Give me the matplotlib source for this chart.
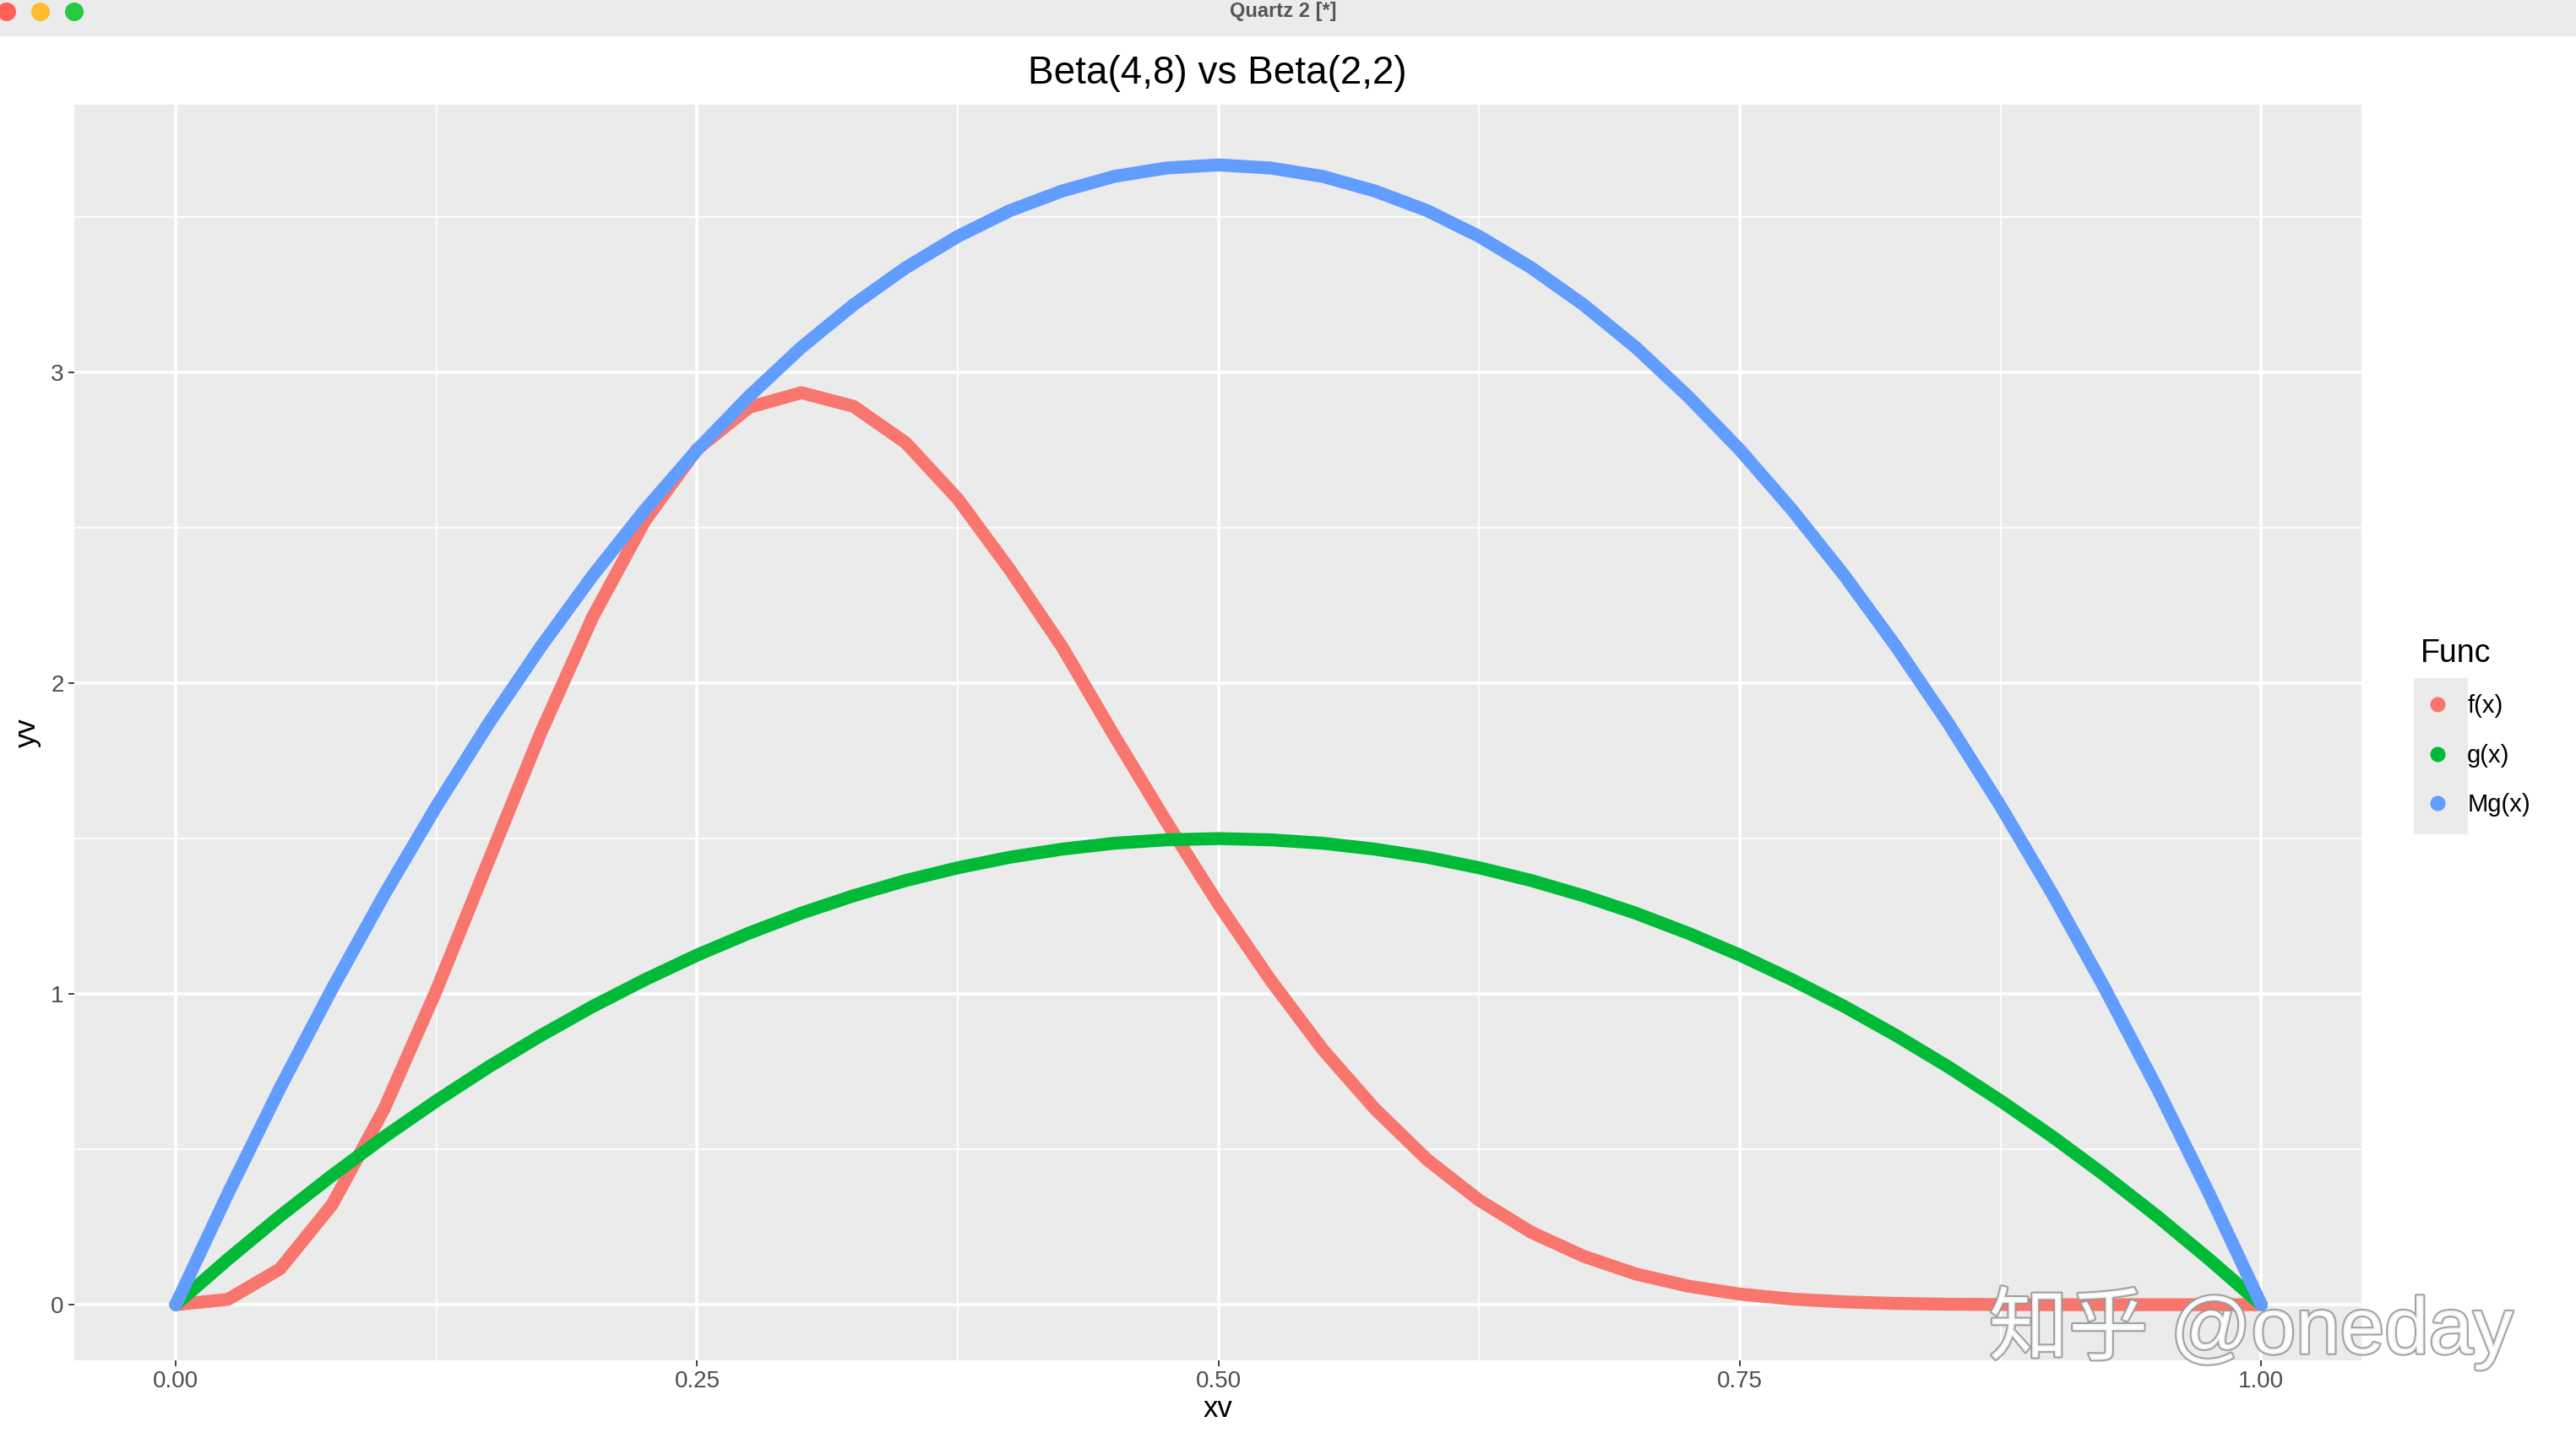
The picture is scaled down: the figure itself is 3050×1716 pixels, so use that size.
import matplotlib
matplotlib.use("Agg")
import matplotlib.pyplot as plt
import matplotlib.patheffects as pe
from matplotlib.patches import Rectangle, Circle

xv = [i * 0.025 for i in range(41)]
f_x = [0, 0.017, 0.115, 0.322, 0.631, 1.012, 1.428, 1.840, 2.214, 2.523, 2.753, 2.888,
       2.935, 2.891, 2.774, 2.593, 2.365, 2.117, 1.831, 1.554, 1.289, 1.044, 0.821, 0.630,
       0.467, 0.336, 0.233, 0.156, 0.099, 0.060, 0.034, 0.018, 0.009, 0.004, 0.0014, 0.0005,
       0.0001, 0, 0, 0, 0]
g_x = [0, 0.146, 0.285, 0.416, 0.540, 0.656, 0.765, 0.866, 0.960, 1.046, 1.125, 1.196,
       1.260, 1.316, 1.365, 1.406, 1.440, 1.466, 1.485, 1.496, 1.500, 1.496, 1.485, 1.466,
       1.440, 1.406, 1.365, 1.316, 1.260, 1.196, 1.125, 1.046, 0.960, 0.866, 0.765, 0.656,
       0.540, 0.416, 0.285, 0.146, 0]
mg_x = [0, 0.357, 0.697, 1.017, 1.320, 1.604, 1.870, 2.117, 2.347, 2.558, 2.751, 2.924,
        3.081, 3.218, 3.337, 3.438, 3.521, 3.584, 3.631, 3.658, 3.668, 3.658, 3.631, 3.584,
        3.521, 3.438, 3.337, 3.218, 3.081, 2.924, 2.751, 2.558, 2.347, 2.117, 1.870, 1.604,
        1.320, 1.017, 0.697, 0.357, 0]
series = [("f(x)", f_x, "#F8766D"), ("g(x)", g_x, "#00BA38"), ("Mg(x)", mg_x, "#619CFF")]
x_ticks = [0.0, 0.25, 0.5, 0.75, 1.0]
x_labels = ["0.00", "0.25", "0.50", "0.75", "1.00"]
y_ticks = [0, 1, 2, 3]

plt.rcParams["font.family"] = ["Liberation Sans", "Noto Sans CJK SC", "DejaVu Sans"]
fig = plt.figure(figsize=(30.5, 17.16), dpi=100)

# Fensterleiste
fig.patches.append(Rectangle((0, 0.975), 1, 0.025, transform=fig.transFigure,
                             facecolor="#ECEBEB", edgecolor="none"))
for i, c in enumerate(["#FE5F57", "#FEBC2E", "#28C840"]):
    fig.patches.append(Circle((8 + i * 40, 1716 - 14), 11, transform=None, facecolor=c))
fig.text(0.498, 0.992, "Quartz 2 [*]", ha="center", va="center", fontsize=17,
         color="#555555", weight="bold")

ax = fig.add_axes([0.0287, 0.061, 0.888, 0.867])
ax.set_facecolor("#EBEBEB")
for xm in [0.125, 0.375, 0.625, 0.875]:
    ax.axvline(xm, color="white", lw=1.3, zorder=0)
for ym in [0.5, 1.5, 2.5, 3.5]:
    ax.axhline(ym, color="white", lw=1.3, zorder=0)
ax.grid(color="white", lw=2.6, zorder=0)
ax.set_axisbelow(True)
for s in ax.spines.values():
    s.set_visible(False)

for name, vals, col in series:
    ax.plot(xv, vals, color=col, lw=11, solid_capstyle="round", label=name, zorder=2)

ax.set_xlim(-0.0488, 1.048)
ax.set_ylim(-0.18, 3.863)
ax.set_xticks(x_ticks)
ax.set_xticklabels(x_labels)
ax.set_yticks(y_ticks)
ax.tick_params(labelsize=20, colors="#4D4D4D", length=5, width=1.3, color="#333333")
ax.set_xlabel("xv", fontsize=25, labelpad=2)
ax.set_ylabel("yv", fontsize=25, labelpad=8)
ax.set_title("Beta(4,8) vs Beta(2,2)", fontsize=33, pad=18)

# graue Schluesselflaeche der Legende
fig.patches.append(Rectangle((0.937, 0.424), 0.021, 0.108, transform=fig.transFigure,
                             facecolor="#EBEBEB", edgecolor="none"))
handles = [plt.Line2D([], [], marker="o", ls="none", ms=12, color=c) for _, _, c in series]
leg = fig.legend(handles, [n for n, _, _ in series], title="Func", loc="upper left",
                 bbox_to_anchor=(0.931, 0.575), frameon=False, fontsize=21,
                 title_fontsize=27, labelspacing=1.05, handletextpad=0.5, handlelength=1.4)
leg._legend_box.align = "left"

fig.text(0.772, 0.066, "知乎 @oneday", fontsize=68, color="white", alpha=0.9,
         path_effects=[pe.withStroke(linewidth=3, foreground="#999999")])

fig.savefig("out.png", dpi=100)
